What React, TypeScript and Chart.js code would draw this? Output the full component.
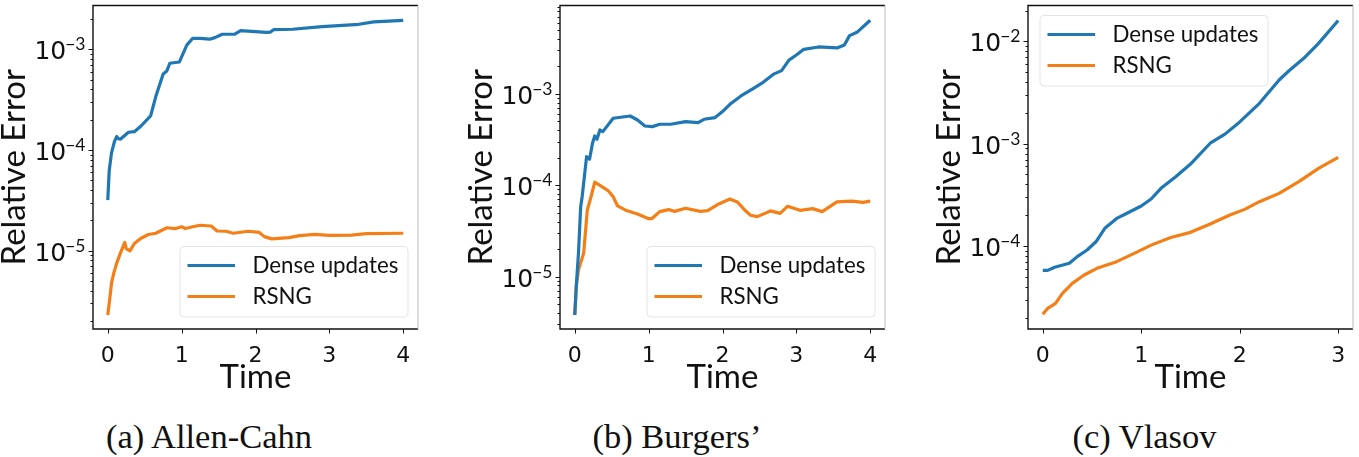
import { useEffect, useRef } from "react";
import { Chart, registerables } from "chart.js";

Chart.register(...registerables);

// Allen-Cahn
const allenDenseTime = [0, 0.02, 0.05, 0.09, 0.12, 0.14, 0.17, 0.28, 0.36, 0.45, 0.58, 0.65, 0.75, 0.8, 0.84, 0.97, 1.07, 1.15, 1.25, 1.38, 1.45, 1.55, 1.72, 1.8, 2.0, 2.15, 2.2, 2.25, 2.5, 2.9, 3.4, 3.6, 4.0];
const allenDense = [3.18e-5, 6.3e-5, 9.3e-5, 1.21e-4, 1.36e-4, 1.3e-4, 1.28e-4, 1.5e-4, 1.52e-4, 1.73e-4, 2.18e-4, 3.39e-4, 5.69e-4, 6.1e-4, 7.26e-4, 7.48e-4, 1.1e-3, 1.285e-3, 1.285e-3, 1.26e-3, 1.305e-3, 1.41e-3, 1.41e-3, 1.53e-3, 1.5e-3, 1.47e-3, 1.48e-3, 1.57e-3, 1.58e-3, 1.68e-3, 1.77e-3, 1.87e-3, 1.94e-3];
const allenRsngTime = [0, 0.03, 0.05, 0.08, 0.12, 0.17, 0.23, 0.25, 0.3, 0.36, 0.45, 0.55, 0.65, 0.8, 0.92, 1.0, 1.05, 1.15, 1.25, 1.4, 1.48, 1.6, 1.7, 1.9, 2.05, 2.12, 2.22, 2.45, 2.6, 2.8, 3.0, 3.3, 3.5, 4.0];
const allenRsng = [2.3e-6, 3.49e-6, 4.73e-6, 5.96e-6, 7.48e-6, 9.4e-6, 1.21e-5, 1.05e-5, 9.95e-6, 1.18e-5, 1.33e-5, 1.45e-5, 1.49e-5, 1.69e-5, 1.66e-5, 1.73e-5, 1.66e-5, 1.73e-5, 1.79e-5, 1.76e-5, 1.57e-5, 1.56e-5, 1.49e-5, 1.56e-5, 1.52e-5, 1.38e-5, 1.31e-5, 1.35e-5, 1.41e-5, 1.45e-5, 1.42e-5, 1.43e-5, 1.48e-5, 1.49e-5];

// Burgers'
const burgersDenseTime = [0, 0.02, 0.05, 0.08, 0.1, 0.16, 0.2, 0.24, 0.27, 0.3, 0.34, 0.38, 0.52, 0.75, 0.85, 0.95, 1.05, 1.15, 1.3, 1.5, 1.67, 1.75, 1.9, 2.0, 2.1, 2.25, 2.42, 2.55, 2.7, 2.8, 2.9, 3.0, 3.1, 3.3, 3.55, 3.65, 3.72, 3.82, 4.0];
const burgersDense = [3.8e-6, 7.76e-6, 1.8e-5, 5.83e-5, 7.5e-5, 2.06e-4, 1.93e-4, 2.88e-4, 3.47e-4, 3.19e-4, 4.03e-4, 3.87e-4, 5.42e-4, 5.74e-4, 5.19e-4, 4.46e-4, 4.39e-4, 4.66e-4, 4.66e-4, 4.98e-4, 4.86e-4, 5.28e-4, 5.51e-4, 6.41e-4, 7.7e-4, 9.5e-4, 1.15e-3, 1.34e-3, 1.66e-3, 1.8e-3, 2.35e-3, 2.67e-3, 3.08e-3, 3.27e-3, 3.19e-3, 3.44e-3, 4.35e-3, 4.73e-3, 6.41e-3];
const burgersRsngTime = [0, 0.02, 0.05, 0.12, 0.17, 0.22, 0.27, 0.33, 0.45, 0.52, 0.58, 0.7, 0.85, 1.0, 1.05, 1.15, 1.27, 1.35, 1.5, 1.7, 1.8, 1.95, 2.1, 2.2, 2.3, 2.38, 2.47, 2.65, 2.78, 2.88, 3.05, 3.22, 3.35, 3.55, 3.75, 3.9, 4.0];
const burgersRsng = [3.8e-6, 7.76e-6, 1.18e-5, 1.8e-5, 5.37e-5, 7.5e-5, 1.08e-4, 1.01e-4, 8.75e-5, 7.5e-5, 5.94e-5, 5.29e-5, 4.85e-5, 4.31e-5, 4.35e-5, 5.15e-5, 5.42e-5, 5.18e-5, 5.6e-5, 5.18e-5, 5.29e-5, 6.25e-5, 7.08e-5, 6.57e-5, 5.37e-5, 4.7e-5, 4.54e-5, 5.24e-5, 4.93e-5, 5.89e-5, 5.32e-5, 5.55e-5, 5.15e-5, 6.57e-5, 6.7e-5, 6.5e-5, 6.7e-5];

// Vlasov
const vlasovDenseTime = [0, 0.05, 0.12, 0.27, 0.35, 0.45, 0.54, 0.63, 0.75, 0.85, 1.0, 1.1, 1.2, 1.35, 1.5, 1.7, 1.85, 2.0, 2.2, 2.4, 2.5, 2.65, 2.8, 3.0];
const vlasovDense = [5.78e-5, 5.78e-5, 6.2e-5, 6.78e-5, 7.87e-5, 9.14e-5, 1.1e-4, 1.49e-4, 1.86e-4, 2.08e-4, 2.46e-4, 2.88e-4, 3.66e-4, 4.76e-4, 6.32e-4, 1.01e-3, 1.24e-3, 1.63e-3, 2.48e-3, 4.19e-3, 5.16e-3, 6.82e-3, 9.55e-3, 0.016];
const vlasovRsngTime = [0, 0.05, 0.13, 0.2, 0.3, 0.42, 0.55, 0.75, 0.95, 1.1, 1.3, 1.5, 1.7, 1.9, 2.05, 2.2, 2.4, 2.6, 2.8, 3.0];
const vlasovRsng = [2.15e-5, 2.46e-5, 2.75e-5, 3.44e-5, 4.31e-5, 5.21e-5, 6.05e-5, 7.03e-5, 8.67e-5, 1.02e-4, 1.21e-4, 1.36e-4, 1.64e-4, 2.01e-4, 2.28e-4, 2.71e-4, 3.27e-4, 4.26e-4, 5.74e-4, 7.35e-4];

const timeTicksLong = [0, 1, 2, 3, 4];
const timeTicksShort = [0, 1, 2, 3];
const seriesNames = ["Dense updates", "RSNG"];
const seriesColors = ["#1f77b4", "#f57f17"];

const FONT = "Lato, sans-serif";
const TICK_FONT = "'DejaVu Sans', sans-serif";

const PANELS = [
  {
    key: "a", caption: "(a) Allen-Cahn", captionLeft: 106,
    dense: [allenDenseTime, allenDense], rsng: [allenRsngTime, allenRsng],
    timeTicks: timeTicksLong, xMin: -0.2, xMax: 4.2, yMin: 1.67e-6, yMax: 2.72e-3,
    left: 93, right: 418, legendCorner: "bottom",
  },
  {
    key: "b", caption: "(b) Burgers’", captionLeft: 592.5,
    dense: [burgersDenseTime, burgersDense], rsng: [burgersRsngTime, burgersRsng],
    timeTicks: timeTicksLong, xMin: -0.2, xMax: 4.2, yMin: 2.67e-6, yMax: 9.3e-3,
    left: 560.3, right: 886, legendCorner: "bottom",
  },
  {
    key: "c", caption: "(c) Vlasov", captionLeft: 1072.5,
    dense: [vlasovDenseTime, vlasovDense], rsng: [vlasovRsngTime, vlasovRsng],
    timeTicks: timeTicksShort, xMin: -0.15, xMax: 3.15, yMin: 1.545e-5, yMax: 0.0224,
    left: 1028.3, right: 1353.3, legendCorner: "top",
  },
];

function decadeExponent(v: number) {
  const e = Math.log10(v);
  return Math.abs(e - Math.round(e)) > 1e-6 ? null : Math.round(e);
}

// log ticks 1..9 per decade, inside the axis limits
function logTicks(min: number, max: number) {
  const out: { value: number }[] = [];
  for (let e = Math.floor(Math.log10(min)); e <= Math.ceil(Math.log10(max)); e++) {
    for (let m = 1; m < 10; m++) {
      const v = Number(m + "e" + e);
      if (v >= min && v <= max) out.push({ value: v });
    }
  }
  return out;
}

// spines, tick marks and the 10^n labels (base and raised exponent)
const framePlugin = {
  id: "frame",
  afterDatasetsDraw(chart: any) {
    const { ctx, chartArea: a, scales } = chart;
    ctx.save();
    ctx.strokeStyle = "#111";
    ctx.fillStyle = "#111";
    ctx.lineWidth = 1;
    ctx.textAlign = "right";
    ctx.textBaseline = "alphabetic";
    scales.y.ticks.forEach((t: any) => {
      const y = Math.round(scales.y.getPixelForValue(t.value)) + 0.5;
      const exp = decadeExponent(t.value);
      ctx.beginPath();
      ctx.moveTo(a.left, y);
      ctx.lineTo(a.left - (exp === null ? 2.5 : 4.5), y);
      ctx.stroke();
      if (exp !== null) {
        const expText = "−" + Math.abs(exp);
        ctx.font = "17.5px " + FONT;
        const expRight = a.left - 7.5;
        ctx.fillText(expText, expRight, y);
        const expWidth = ctx.measureText(expText).width;
        ctx.font = "25px " + TICK_FONT;
        ctx.fillText("10", expRight - expWidth + 1, y + 9);
      }
    });
    scales.x.ticks.forEach((t: any) => {
      const x = Math.round(scales.x.getPixelForValue(t.value)) + 0.5;
      ctx.beginPath();
      ctx.moveTo(x, a.bottom);
      ctx.lineTo(x, a.bottom + 4.5);
      ctx.stroke();
    });
    ctx.lineWidth = 1.4;
    ctx.beginPath();
    ctx.moveTo(a.right, a.top);
    ctx.lineTo(a.left, a.top);
    ctx.lineTo(a.left, a.bottom);
    ctx.lineTo(a.right, a.bottom);
    ctx.stroke();
    ctx.strokeStyle = "#bbb";
    ctx.lineWidth = 1;
    ctx.beginPath();
    ctx.moveTo(a.right, a.top);
    ctx.lineTo(a.right, a.bottom);
    ctx.stroke();
    ctx.restore();
  },
};

// matplotlib style legend box inside the axes
const boxLegendPlugin = {
  id: "boxLegend",
  afterDatasetsDraw(chart: any, _args: any, opts: any) {
    const { ctx, chartArea: a } = chart;
    const w = 228;
    const h = 70.5;
    const x = opts.corner === "top" ? a.left + 12 : a.right - 10 - w;
    const y = opts.corner === "top" ? a.top + 10 : a.bottom - 12 - h;
    ctx.save();
    ctx.beginPath();
    ctx.roundRect(x, y, w, h, 4);
    ctx.fillStyle = "rgba(255,255,255,0.8)";
    ctx.fill();
    ctx.strokeStyle = "#e4e4e4";
    ctx.lineWidth = 1;
    ctx.stroke();
    ctx.font = "22.3px " + FONT;
    ctx.textBaseline = "middle";
    chart.data.datasets.forEach((ds: any, i: number) => {
      const rowY = y + 19 + i * 31;
      ctx.strokeStyle = ds.borderColor;
      ctx.lineWidth = 3.2;
      ctx.beginPath();
      ctx.moveTo(x + 7.5, rowY);
      ctx.lineTo(x + 55, rowY);
      ctx.stroke();
      ctx.fillStyle = "#111";
      ctx.fillText(ds.label, x + 72.5, rowY);
    });
    ctx.restore();
  },
};

function Panel({ panel }: { panel: (typeof PANELS)[number] }) {
  const canvasRef = useRef<HTMLCanvasElement | null>(null);

  useEffect(() => {
    if (!canvasRef.current) return;
    const series = [panel.dense, panel.rsng];
    const chart = new Chart(canvasRef.current, {
      type: "line",
      data: {
        datasets: series.map(([time, values], i) => ({
          label: seriesNames[i],
          data: time.map((t, j) => ({ x: t, y: values[j] })),
          borderColor: seriesColors[i],
          borderWidth: 3.2,
          pointRadius: 0,
          tension: 0,
          borderJoinStyle: "round" as const,
        })),
      },
      options: {
        responsive: false,
        animation: false,
        layout: { padding: { top: 5.5, right: 22, bottom: 3, left: 0 } },
        plugins: {
          legend: { display: false },
          tooltip: { enabled: false },
          boxLegend: { corner: panel.legendCorner },
        } as any,
        scales: {
          x: {
            type: "linear",
            min: panel.xMin,
            max: panel.xMax,
            afterBuildTicks: (s: any) => {
              s.ticks = panel.timeTicks.map((value) => ({ value }));
            },
            afterFit: (s: any) => {
              s.height = 68;
              s.paddingLeft = 0;
              s.paddingRight = 0;
            },
            grid: { display: false },
            border: { display: false },
            ticks: { color: "#111", padding: 6, maxRotation: 0, font: { family: TICK_FONT, size: 22 } },
            title: {
              display: true,
              text: "Time",
              color: "#111",
              padding: 0,
              font: { family: FONT, size: 33, lineHeight: 1.2 },
            },
          },
          y: {
            type: "logarithmic",
            min: panel.yMin,
            max: panel.yMax,
            afterBuildTicks: (s: any) => {
              s.ticks = logTicks(panel.yMin, panel.yMax);
            },
            afterFit: (s: any) => {
              s.width = 93;
              s.paddingTop = 0;
              s.paddingBottom = 0;
            },
            grid: { display: false },
            border: { display: false },
            ticks: { display: false },
            title: {
              display: true,
              text: "Relative Error",
              color: "#111",
              padding: 0,
              font: { family: FONT, size: 33, lineHeight: 0.88 },
            },
          },
        },
      },
      plugins: [framePlugin, boxLegendPlugin],
    });
    return () => chart.destroy();
  }, [panel]);

  return (
    <>
      <canvas
        ref={canvasRef}
        width={panel.right + 22 - (panel.left - 93)}
        height={400}
        style={{ position: "absolute", left: panel.left - 93, top: 0 }}
      />
      <div
        style={{
          position: "absolute",
          left: panel.captionLeft,
          top: 417,
          font: "34.5px 'Liberation Serif', serif",
          color: "#111",
          whiteSpace: "nowrap",
        }}
      >
        {panel.caption}
      </div>
    </>
  );
}

export default function App() {
  return (
    <div style={{ position: "absolute", left: 0, top: 0, width: 1359, height: 457, overflow: "hidden", background: "#fff" }}>
      {PANELS.map((p) => (
        <Panel key={p.key} panel={p} />
      ))}
    </div>
  );
}
